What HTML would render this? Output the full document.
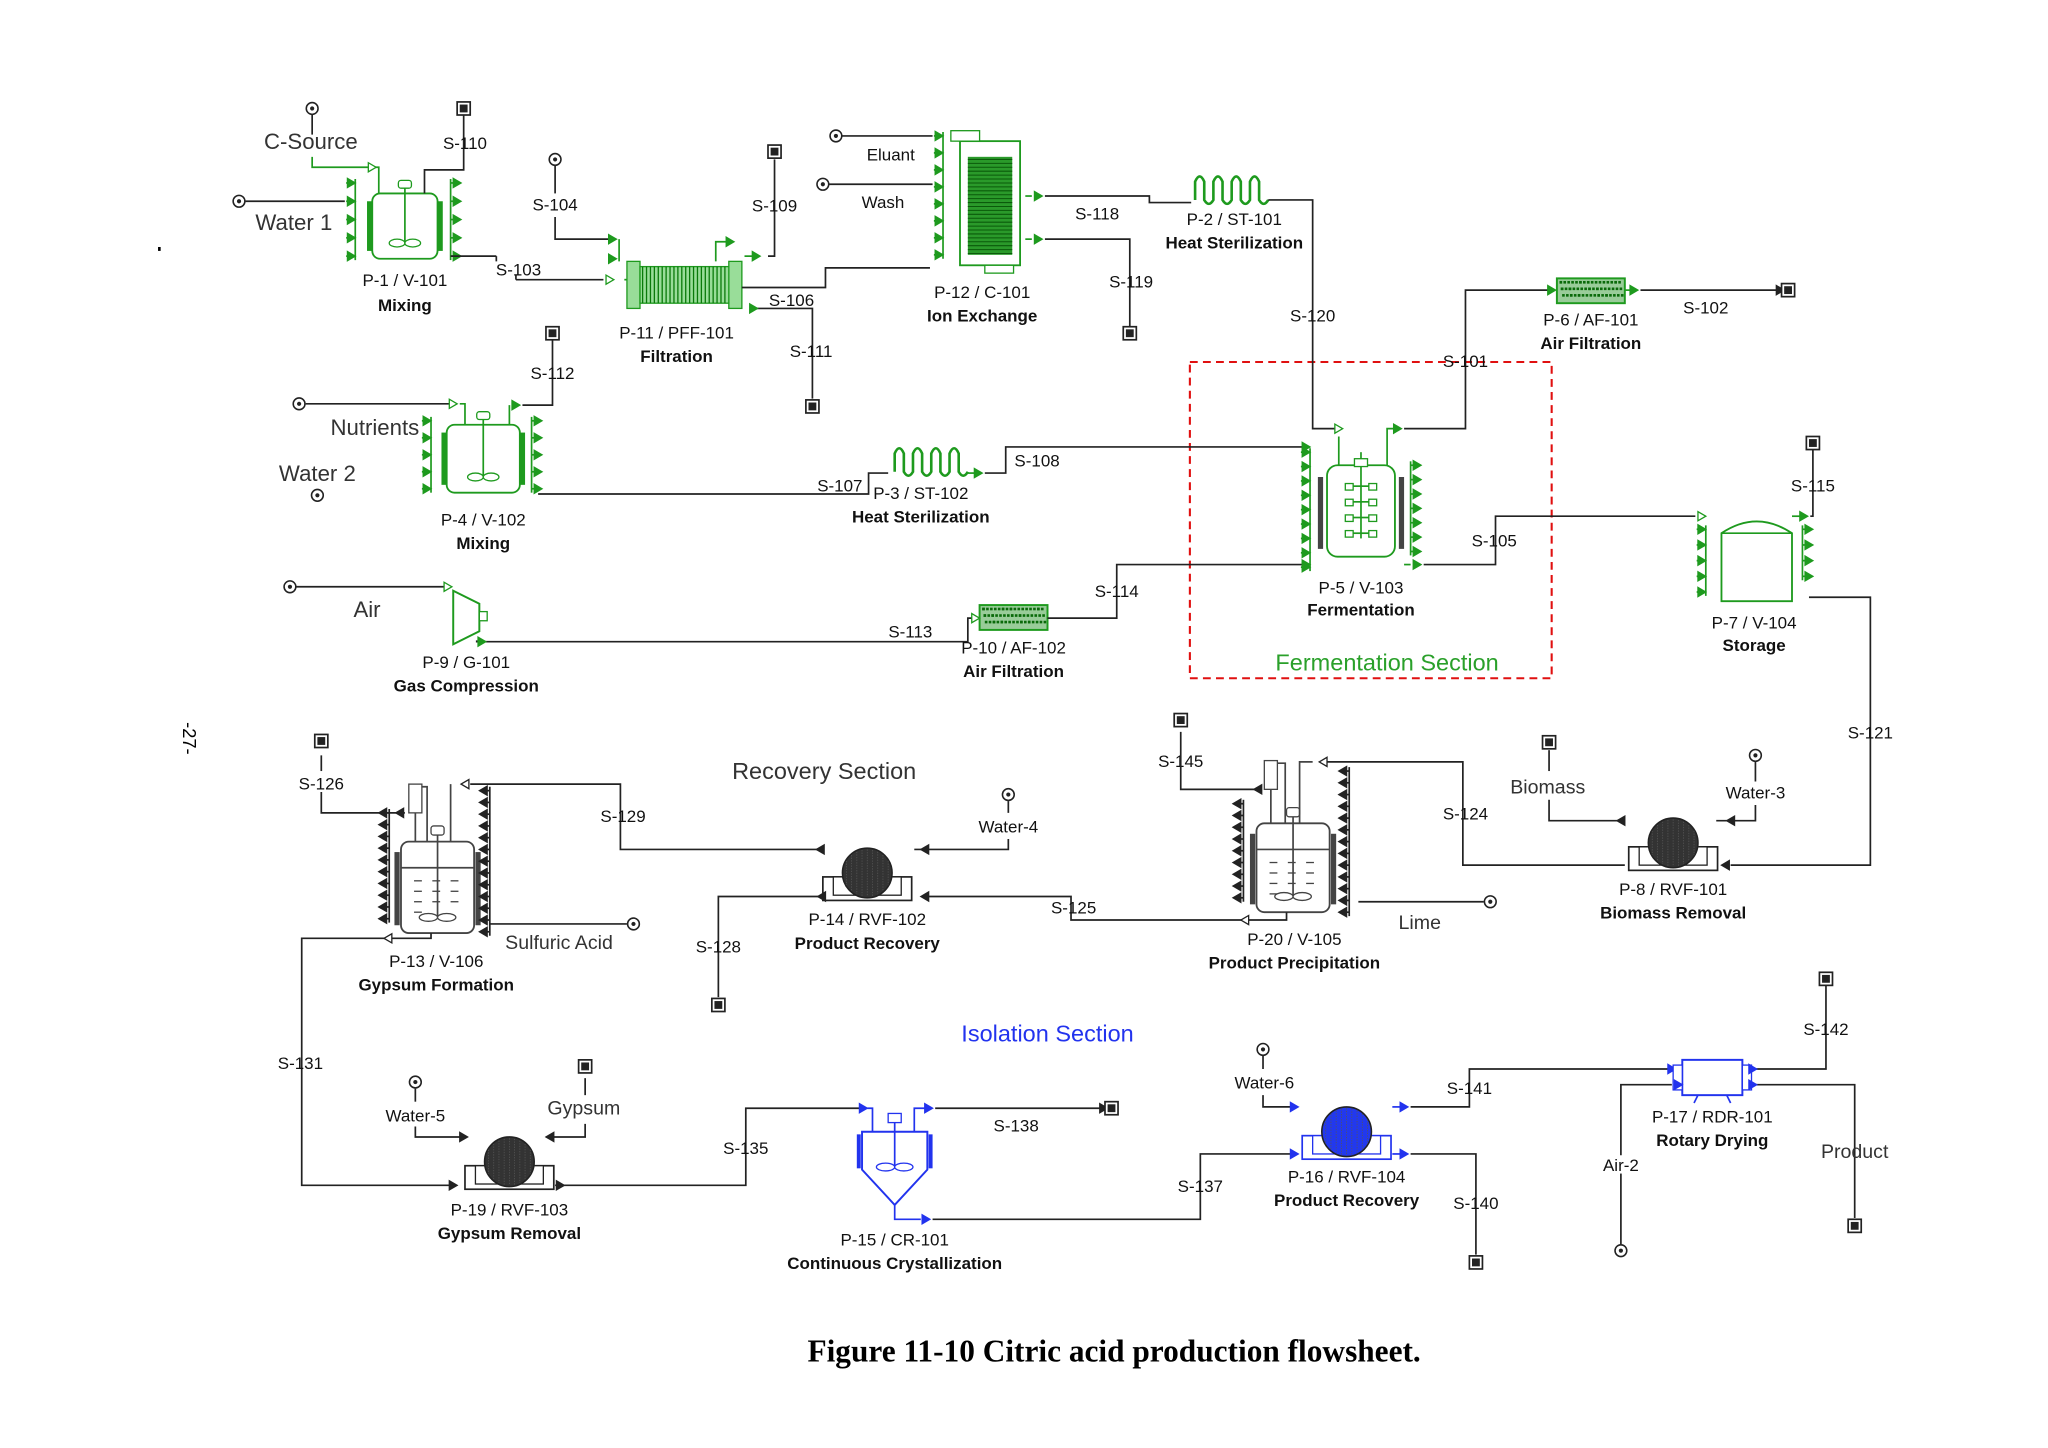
<!DOCTYPE html>
<html><head><meta charset="utf-8"><style>
html,body{margin:0;padding:0;background:#fff;}
svg{display:block;}
text{font-family:"Liberation Sans",sans-serif;}
</style></head><body>
<svg id="s" width="2048" height="1448" viewBox="0 0 1568 1108" preserveAspectRatio="none" xmlns="http://www.w3.org/2000/svg">
<rect width="1568" height="1108" fill="#fff"/>
<rect x="911" y="277" width="277" height="242" fill="none" stroke="#e01010" stroke-width="1.6" stroke-dasharray="6,4"/>
<text x="1062" y="513" font-size="18" fill="#2aa02a" text-anchor="middle">Fermentation Section</text>
<text x="631" y="596" font-size="18" fill="#333" text-anchor="middle">Recovery Section</text>
<text x="802" y="797" font-size="18" fill="#2233ee" text-anchor="middle">Isolation Section</text>
<text x="853" y="1042" font-size="24" font-weight="bold" text-anchor="middle" style="font-family:'Liberation Serif',serif">Figure 11-10 Citric acid production flowsheet.</text>
<text x="0" y="0" font-size="14" transform="translate(140,565) rotate(90)" text-anchor="middle">-27-</text>
<rect x="121" y="189" width="2" height="3" fill="#000"/>
<g id="g"></g>
</svg>
<script>
var G=document.getElementById('g'),out='';
var GR='#1e9a1e',BL='#2233ee',K='#222';
function L(p,c){out+='<polyline points="'+p+'" fill="none" stroke="'+(c||K)+'" stroke-width="1.3"/>';}
function T(x,y,s,b,sz,col){out+='<text x="'+x+'" y="'+y+'" font-size="'+(sz||13)+'" text-anchor="middle" fill="'+(col||'#111')+'"'+(b?' font-weight="bold"':'')+'>'+s+'</text>';}
function A(x,y,d,c,open){c=c||GR;var p;
 if(d=='r')p=[x,y,x-6,y-3.5,x-6,y+3.5];else if(d=='l')p=[x,y,x+6,y-3.5,x+6,y+3.5];else if(d=='u')p=[x,y,x-3.5,y+6,x+3.5,y+6];else p=[x,y,x-3.5,y-6,x+3.5,y-6];
 out+='<polygon points="'+p.join(',')+'" fill="'+(open?'#fff':c)+'" stroke="'+c+'" stroke-width="1"/>';}
function src(x,y){out+='<circle cx="'+x+'" cy="'+y+'" r="4.5" fill="#fff" stroke="#222" stroke-width="1.2"/><circle cx="'+x+'" cy="'+y+'" r="1.6" fill="#222"/>';}
function sink(x,y){out+='<rect x="'+(x-5)+'" y="'+(y-5)+'" width="10" height="10" fill="#fff" stroke="#222" stroke-width="1.3"/><rect x="'+(x-3)+'" y="'+(y-3)+'" width="6" height="6" fill="#222"/>';}
function ports(x,y0,n,dy,d,c){L(x+','+(y0-3)+' '+x+','+(y0+(n-1)*dy+3),c);for(var i=0;i<n;i++){var y=y0+i*dy;if(d=='r'){L(x+','+y+' '+(x+5)+','+y,c);A(x+8,y,'r',c);}else if(d=='l'){L(x+','+y+' '+(x-5)+','+y,c);A(x-8,y,'l',c);}else{L((x-7)+','+y+' '+x+','+y,c);A(x,y,'r',c);} }}
function mixer(x,y,w,h,c){out+='<rect x="'+x+'" y="'+y+'" width="'+w+'" height="'+h+'" rx="6" fill="#fff" stroke="'+c+'" stroke-width="1.4"/>';
 out+='<rect x="'+(x-4)+'" y="'+(y+6)+'" width="4" height="'+(h-12)+'" fill="'+c+'"/><rect x="'+(x+w)+'" y="'+(y+6)+'" width="4" height="'+(h-12)+'" fill="'+c+'"/>';
 var cx=x+w/2;L(cx+','+(y-5)+' '+cx+','+(y+h-12),c);out+='<rect x="'+(cx-5)+'" y="'+(y-10)+'" width="10" height="6" rx="2" fill="#fff" stroke="'+c+'"/>';
 out+='<ellipse cx="'+(cx-6)+'" cy="'+(y+h-12)+'" rx="6" ry="3" fill="#fff" stroke="'+c+'"/><ellipse cx="'+(cx+6)+'" cy="'+(y+h-12)+'" rx="6" ry="3" fill="#fff" stroke="'+c+'"/>';}
function coil(x,y,c){var d='M'+x+','+(y+18);for(var i=0;i<4;i++){var a=x+i*14;d+=' L'+a+',' +(y+4)+' Q'+(a+3.5)+','+(y-4)+' '+(a+7)+','+(y+4)+' L'+(a+7)+','+(y+18)+' Q'+(a+10.5)+','+(y+24)+' '+(a+14)+','+(y+18);}
 out+='<path d="'+d+'" fill="none" stroke="'+c+'" stroke-width="2"/>';}
function dotbox(x,y,w,h){out+='<rect x="'+x+'" y="'+y+'" width="'+w+'" height="'+h+'" fill="#9c9" stroke="'+GR+'" stroke-width="1.5"/>';for(var i=0;i<60;i++){out+='<rect x="'+(x+2+((i*7)%(w-4)))+'" y="'+(y+2+((i*5)%(h-4)))+'" width="2" height="2" fill="#0a6a0a"/>';}}
function drum(cx,cy,c,fill){out+='<rect x="'+(cx-34)+'" y="'+(cy+3)+'" width="68" height="18" fill="#fff" stroke="'+c+'" stroke-width="1.3"/><rect x="'+(cx-26)+'" y="'+(cy+3)+'" width="52" height="14" fill="#fff" stroke="'+c+'"/>';
 out+='<circle cx="'+cx+'" cy="'+cy+'" r="19" fill="'+fill+'" stroke="#222" stroke-width="1.2"/>';for(var i=-16;i<=16;i+=4)out+='<line x1="'+(cx+i)+'" y1="'+(cy-Math.sqrt(361-i*i)+1)+'" x2="'+(cx+i)+'" y2="'+(cy+Math.sqrt(361-i*i)-1)+'" stroke="#555" stroke-width="0.6" stroke-dasharray="1,1"/>';}
function liq(x,y,w,h,c){out+='<rect x="'+x+'" y="'+y+'" width="'+w+'" height="'+h+'" rx="6" fill="#fff" stroke="'+c+'" stroke-width="1.4"/><rect x="'+(x-5)+'" y="'+(y+8)+'" width="4" height="'+(h-14)+'" fill="#444"/><rect x="'+(x+w+1)+'" y="'+(y+8)+'" width="4" height="'+(h-14)+'" fill="#444"/>';
 L(x+','+(y+20)+' '+(x+w)+','+(y+20),'#444');for(var i=0;i<10;i++){out+='<line x1="'+(x+10+(i%3)*14)+'" y1="'+(y+30+Math.floor(i/3)*8)+'" x2="'+(x+16+(i%3)*14)+'" y2="'+(y+30+Math.floor(i/3)*8)+'" stroke="#444"/>';}
 var cx=x+w/2;L(cx+','+(y-6)+' '+cx+','+(y+h-12),'#444');out+='<rect x="'+(cx-5)+'" y="'+(y-12)+'" width="10" height="7" rx="2" fill="#fff" stroke="#444"/><ellipse cx="'+(cx-7)+'" cy="'+(y+h-12)+'" rx="7" ry="3" fill="#fff" stroke="#444"/><ellipse cx="'+(cx+7)+'" cy="'+(y+h-12)+'" rx="7" ry="3" fill="#fff" stroke="#444"/>';}

/* P-1 */
mixer(285,148,50,50,GR);ports(272,140,5,14,'w',GR);ports(345,140,5,14,'r',GR);
src(239,83);T(238,114,'C-Source',0,17,'#333');L('239,88 239,103');L('239,120 239,128 290,128 290,148',GR);A(288,128,'r',GR,1);
src(183,154);T(225,176,'Water 1',0,17,'#333');L('188,154 264,154');
L('325,148 325,130 355,130 355,88');sink(355,83);T(356,114,'S-110');
L('345,196 380,196');L('395,214 462,214');L('380,196 380,200');L('395,210 395,214');T(397,211,'S-103');
T(310,219,'P-1 / V-101');T(310,238,'Mixing',1);
/* P-11 */
out+='<rect x="480" y="200" width="10" height="36" fill="#9d9" stroke="'+GR+'"/><rect x="558" y="200" width="10" height="36" fill="#9d9" stroke="'+GR+'"/><rect x="490" y="204" width="68" height="28" fill="#9d9" stroke="'+GR+'"/>';
for(var i=492;i<558;i+=3)out+='<line x1="'+i+'" y1="204" x2="'+i+'" y2="232" stroke="#0a7a0a" stroke-width="1"/>';
A(470,214,'r',GR,1);L('478,214 480,214',GR);L('474,200 474,183',GR);
src(425,122);L('425,127 425,148');T(425,161,'S-104');L('425,166 425,183 470,183');A(472,183,'r',GR);A(472,198,'r',GR);
L('548,200 548,185 560,185',GR);A(562,185,'r',GR);L('570,196 580,196',GR);A(582,196,'r',GR);L('588,196 593,196 593,122');sink(593,116);T(593,162,'S-109');
L('568,220 632,220 632,205 712,205');T(606,234,'S-106');L('575,236 622,236 622,305');sink(622,311);T(621,273,'S-111');A(580,236,'r',GR);
T(518,259,'P-11 / PFF-101');T(518,277,'Filtration',1);
/* P-12 */
out+='<rect x="735" y="108" width="46" height="95" fill="#fff" stroke="'+GR+'" stroke-width="1.4"/><rect x="728" y="100" width="22" height="8" fill="#fff" stroke="'+GR+'"/><rect x="754" y="203" width="22" height="6" fill="#fff" stroke="'+GR+'"/><rect x="741" y="120" width="34" height="75" fill="#2a9a2a"/>';
for(var i=122;i<195;i+=3)out+='<line x1="741" y1="'+i+'" x2="775" y2="'+i+'" stroke="#0b5a0b" stroke-width="0.8"/>';
ports(722,104,8,13,'w',GR);src(640,104);L('645,104 714,104');T(682,123,'Eluant');src(630,141);L('635,141 714,141');T(676,159,'Wash');
L('785,150 790,150',GR);A(798,150,'r',GR);L('800,150 880,150 880,155 912,155');T(840,168,'S-118');
L('785,183 790,183',GR);A(798,183,'r',GR);L('800,183 865,183 865,250');sink(865,255);T(866,220,'S-119');
T(752,228,'P-12 / C-101');T(752,246,'Ion Exchange',1);
/* P-2 */
coil(915,135,GR);L('971,153 1005,153 1005,328 1022,328');A(1028,328,'r',GR,1);T(945,172,'P-2 / ST-101');T(945,190,'Heat Sterilization',1);T(1005,246,'S-120');
/* P-5 fermenter */
out+='<rect x="1016" y="356" width="52" height="70" rx="8" fill="#fff" stroke="'+GR+'" stroke-width="1.4"/><rect x="1009" y="365" width="4" height="55" fill="#444"/><rect x="1071" y="365" width="4" height="55" fill="#444"/>';
L('1042,346 1042,412',GR);out+='<rect x="1037" y="351" width="10" height="6" fill="#fff" stroke="'+GR+'"/>';
for(var j=0;j<4;j++){out+='<rect x="1030" y="'+(370+j*12)+'" width="6" height="5" fill="#fff" stroke="'+GR+'"/><rect x="1048" y="'+(370+j*12)+'" width="6" height="5" fill="#fff" stroke="'+GR+'"/>';L('1036,'+(372+j*12)+' 1048,'+(372+j*12),GR);}
L('1025,356 1025,334',GR);L('1062,356 1062,328 1068,328',GR);A(1073,328,'r',GR);
ports(1003,346,9,11,'w',GR);ports(1080,356,7,11,'r',GR);
L('1075,328 1122,328 1122,222 1186,222');T(1122,281,'S-101');A(1191,222,'r',GR);
L('1075,432 1080,432',GR);A(1088,432,'r',GR);
T(1042,454,'P-5 / V-103');T(1042,471,'Fermentation',1);
/* P-6 */
dotbox(1192,213,52,19);L('1244,222 1252,222',GR);A(1254,222,'r',GR);L('1256,222 1362,222');A(1366,222,'r','#222');sink(1369,222);T(1306,240,'S-102');T(1218,249,'P-6 / AF-101');T(1218,267,'Air Filtration',1);
/* P-4 */
mixer(342,325,56,52,GR);ports(330,322,5,13,'w',GR);ports(407,322,5,13,'r',GR);
src(229,309);L('234,309 344,309');A(350,309,'r',GR,1);L('352,309 356,309 356,325',GR);T(287,333,'Nutrients',0,17,'#333');T(243,368,'Water 2',0,17,'#333');src(243,379);
L('390,325 390,310',GR);A(398,310,'r',GR);L('400,310 423,310 423,260');sink(423,255);T(423,290,'S-112');
L('412,378 665,378 665,362 680,362');T(643,376,'S-107');T(370,402,'P-4 / V-102');T(370,420,'Mixing',1);
/* P-3 */
coil(685,343,GR);L('741,362 748,362',GR);A(752,362,'r',GR);L('754,362 770,362 770,342 997,342');A(1003,342,'r',GR);T(794,357,'S-108');T(705,382,'P-3 / ST-102');T(705,400,'Heat Sterilization',1);
/* P-9 */
out+='<polygon points="347,452 367,462 367,483 347,493" fill="#fff" stroke="'+GR+'" stroke-width="1.5"/><rect x="367" y="468" width="6" height="7" fill="#fff" stroke="'+GR+'"/>';
src(222,449);L('227,449 340,449');A(346,449,'r',GR,1);T(281,472,'Air',0,17,'#333');
L('365,490 365,491 741,491 741,473 744,473');A(372,491,'r',GR);T(697,488,'S-113');T(357,511,'P-9 / G-101');T(357,529,'Gas Compression',1);
/* P-10 */
dotbox(750,463,52,19);A(750,473,'r',GR,1);L('802,473 855,473 855,432 997,432');A(1003,432,'r',GR);T(855,457,'S-114');T(776,500,'P-10 / AF-102');T(776,518,'Air Filtration',1);
/* S-105 */
L('1090,432 1145,432 1145,395 1298,395');T(1144,418,'S-105');A(1306,395,'r',GR,1);
/* P-7 */
out+='<path d="M1318,460 L1318,408 Q1345,390 1372,408 L1372,460 Z" fill="#fff" stroke="'+GR+'" stroke-width="1.4"/>';L('1318,408 1372,408',GR);
ports(1306,405,5,12,'w',GR);ports(1380,405,4,12,'r',GR);L('1372,395 1380,395',GR);A(1384,395,'r',GR);L('1386,395 1388,395 1388,344');sink(1388,339);T(1388,376,'S-115');
L('1385,457 1432,457 1432,662 1325,662');A(1318,662,'l','#222');T(1432,565,'S-121');T(1343,481,'P-7 / V-104');T(1343,498,'Storage',1);
/* P-8 */
drum(1281,645,'#222','#333');sink(1186,568);L('1186,574 1186,590');T(1185,607,'Biomass',0,15,'#333');L('1186,612 1186,628 1244,628');A(1238,628,'l','#222');
src(1344,578);L('1344,583 1344,598');T(1344,611,'Water-3');L('1344,616 1344,628 1314,628');A(1322,628,'l','#222');
L('1244,662 1120,662 1120,583 1015,583');A(1010,583,'l','#222',1);T(1122,627,'S-124');T(1281,685,'P-8 / RVF-101');T(1281,703,'Biomass Removal',1);
/* P-20 */
liq(962,630,56,68,'#444');ports(1033,590,13,9,'l','#222');ports(952,615,9,9,'l','#222');
out+='<rect x="968" y="582" width="10" height="22" fill="#fff" stroke="#444"/>';L('973,604 973,630','#444');L('978,584 984,584 984,630','#444');L('995,630 995,583 1005,583','#444');
sink(904,551);T(904,587,'S-145');L('904,560 904,604 966,604');A(960,604,'l','#222');
src(1141,690);L('1136,690 1040,690');T(1087,711,'Lime',0,15,'#333');
L('985,698 985,704 820,704 820,686 710,686');A(950,704,'l','#222',1);A(705,686,'l','#222');T(822,699,'S-125');
T(991,723,'P-20 / V-105');T(991,741,'Product Precipitation',1);
/* P-14 */
drum(664,668,'#222','#333');src(772,608);L('772,613 772,622');T(772,637,'Water-4');L('772,642 772,650 700,650');A(705,650,'l','#222');
L('628,650 475,650 475,600 360,600');A(625,650,'l','#222');A(353,600,'l','#222',1);T(477,629,'S-129');
L('628,686 550,686 550,763');A(626,686,'l','#222');sink(550,769);T(550,729,'S-128');T(664,708,'P-14 / RVF-102');T(664,726,'Product Recovery',1);
/* P-13 */
liq(307,644,56,70,'#444');ports(298,622,10,9,'l','#222');ports(375,605,13,9,'l','#222');
out+='<rect x="313" y="600" width="10" height="22" fill="#fff" stroke="#444"/>';L('318,622 318,644','#444');L('323,602 327,602 327,644','#444');L('345,644 345,600','#444');
sink(246,567);T(246,604,'S-126');L('246,578 246,590');L('246,606 246,622 310,622');A(303,622,'l','#222');
src(485,707);L('480,707 375,707');T(428,726,'Sulfuric Acid',0,15,'#333');
L('330,714 330,718 231,718 231,907 345,907');A(294,718,'l','#222',1);A(350,907,'r','#222');T(230,818,'S-131');
T(334,740,'P-13 / V-106');T(334,758,'Gypsum Formation',1);
/* P-19 */
drum(390,889,'#222','#333');src(318,828);L('318,833 318,843');T(318,858,'Water-5');L('318,862 318,870 352,870');A(358,870,'r','#222');
sink(448,816);L('448,825 448,838');T(447,853,'Gypsum',0,15,'#333');L('448,860 448,870 423,870');A(418,870,'l','#222');
L('425,907 571,907 571,848 658,848');A(432,907,'r','#222');A(664,848,'r',BL);T(571,883,'S-135');T(390,930,'P-19 / RVF-103');T(390,948,'Gypsum Removal',1);
/* P-15 */
out+='<path d="M660,866 L660,895 L685,922 L710,895 L710,866 Z" fill="#fff" stroke="'+BL+'" stroke-width="1.5"/><rect x="656" y="868" width="3" height="26" fill="'+BL+'"/><rect x="711" y="868" width="3" height="26" fill="'+BL+'"/>';
L('685,852 685,893',BL);out+='<rect x="680" y="852" width="10" height="7" fill="#fff" stroke="'+BL+'"/><ellipse cx="678" cy="893" rx="7" ry="3" fill="#fff" stroke="'+BL+'"/><ellipse cx="692" cy="893" rx="7" ry="3" fill="#fff" stroke="'+BL+'"/>';
L('664,848 668,848 668,866',BL);L('700,866 700,848 708,848',BL);A(714,848,'r',BL);L('716,848 845,848');A(848,848,'r','#222');sink(851,848);T(778,866,'S-138');
L('685,922 685,933 705,933',BL);A(712,933,'r',BL);L('714,933 919,933 919,883 988,883');A(994,883,'r',BL);T(919,912,'S-137');
T(685,953,'P-15 / CR-101');T(685,971,'Continuous Crystallization',1);
/* P-16 */
drum(1031,866,BL,'#2238ee');src(967,803);L('967,808 967,818');T(968,833,'Water-6');L('967,838 967,847 988,847');A(994,847,'r',BL);
L('1066,847 1072,847',BL);A(1078,847,'r',BL);L('1080,847 1125,847 1125,818 1277,818');A(1283,818,'r',BL);T(1125,837,'S-141');
L('1066,883 1072,883',BL);A(1078,883,'r',BL);L('1080,883 1130,883 1130,960');sink(1130,966);T(1130,925,'S-140');
T(1031,905,'P-16 / RVF-104');T(1031,923,'Product Recovery',1);
/* P-17 */
out+='<rect x="1288" y="811" width="46" height="27" fill="#fff" stroke="'+BL+'" stroke-width="1.5"/><rect x="1281" y="815" width="7" height="19" fill="#fff" stroke="'+BL+'"/><rect x="1334" y="815" width="7" height="19" fill="#fff" stroke="'+BL+'"/>';
L('1300,838 1297,844',BL);L('1322,838 1325,844',BL);A(1288,830,'r',BL);
L('1341,818 1398,818 1398,754');A(1345,818,'r',BL);sink(1398,749);T(1398,792,'S-142');
L('1341,830 1420,830 1420,932');A(1345,830,'r',BL);sink(1420,938);T(1420,886,'Product',0,15,'#333');
src(1241,957);L('1241,952 1241,898');L('1241,884 1241,830 1280,830');T(1241,896,'Air-2');
T(1311,859,'P-17 / RDR-101');T(1311,877,'Rotary Drying',1);
G.innerHTML=out;
</script>
</body></html>
